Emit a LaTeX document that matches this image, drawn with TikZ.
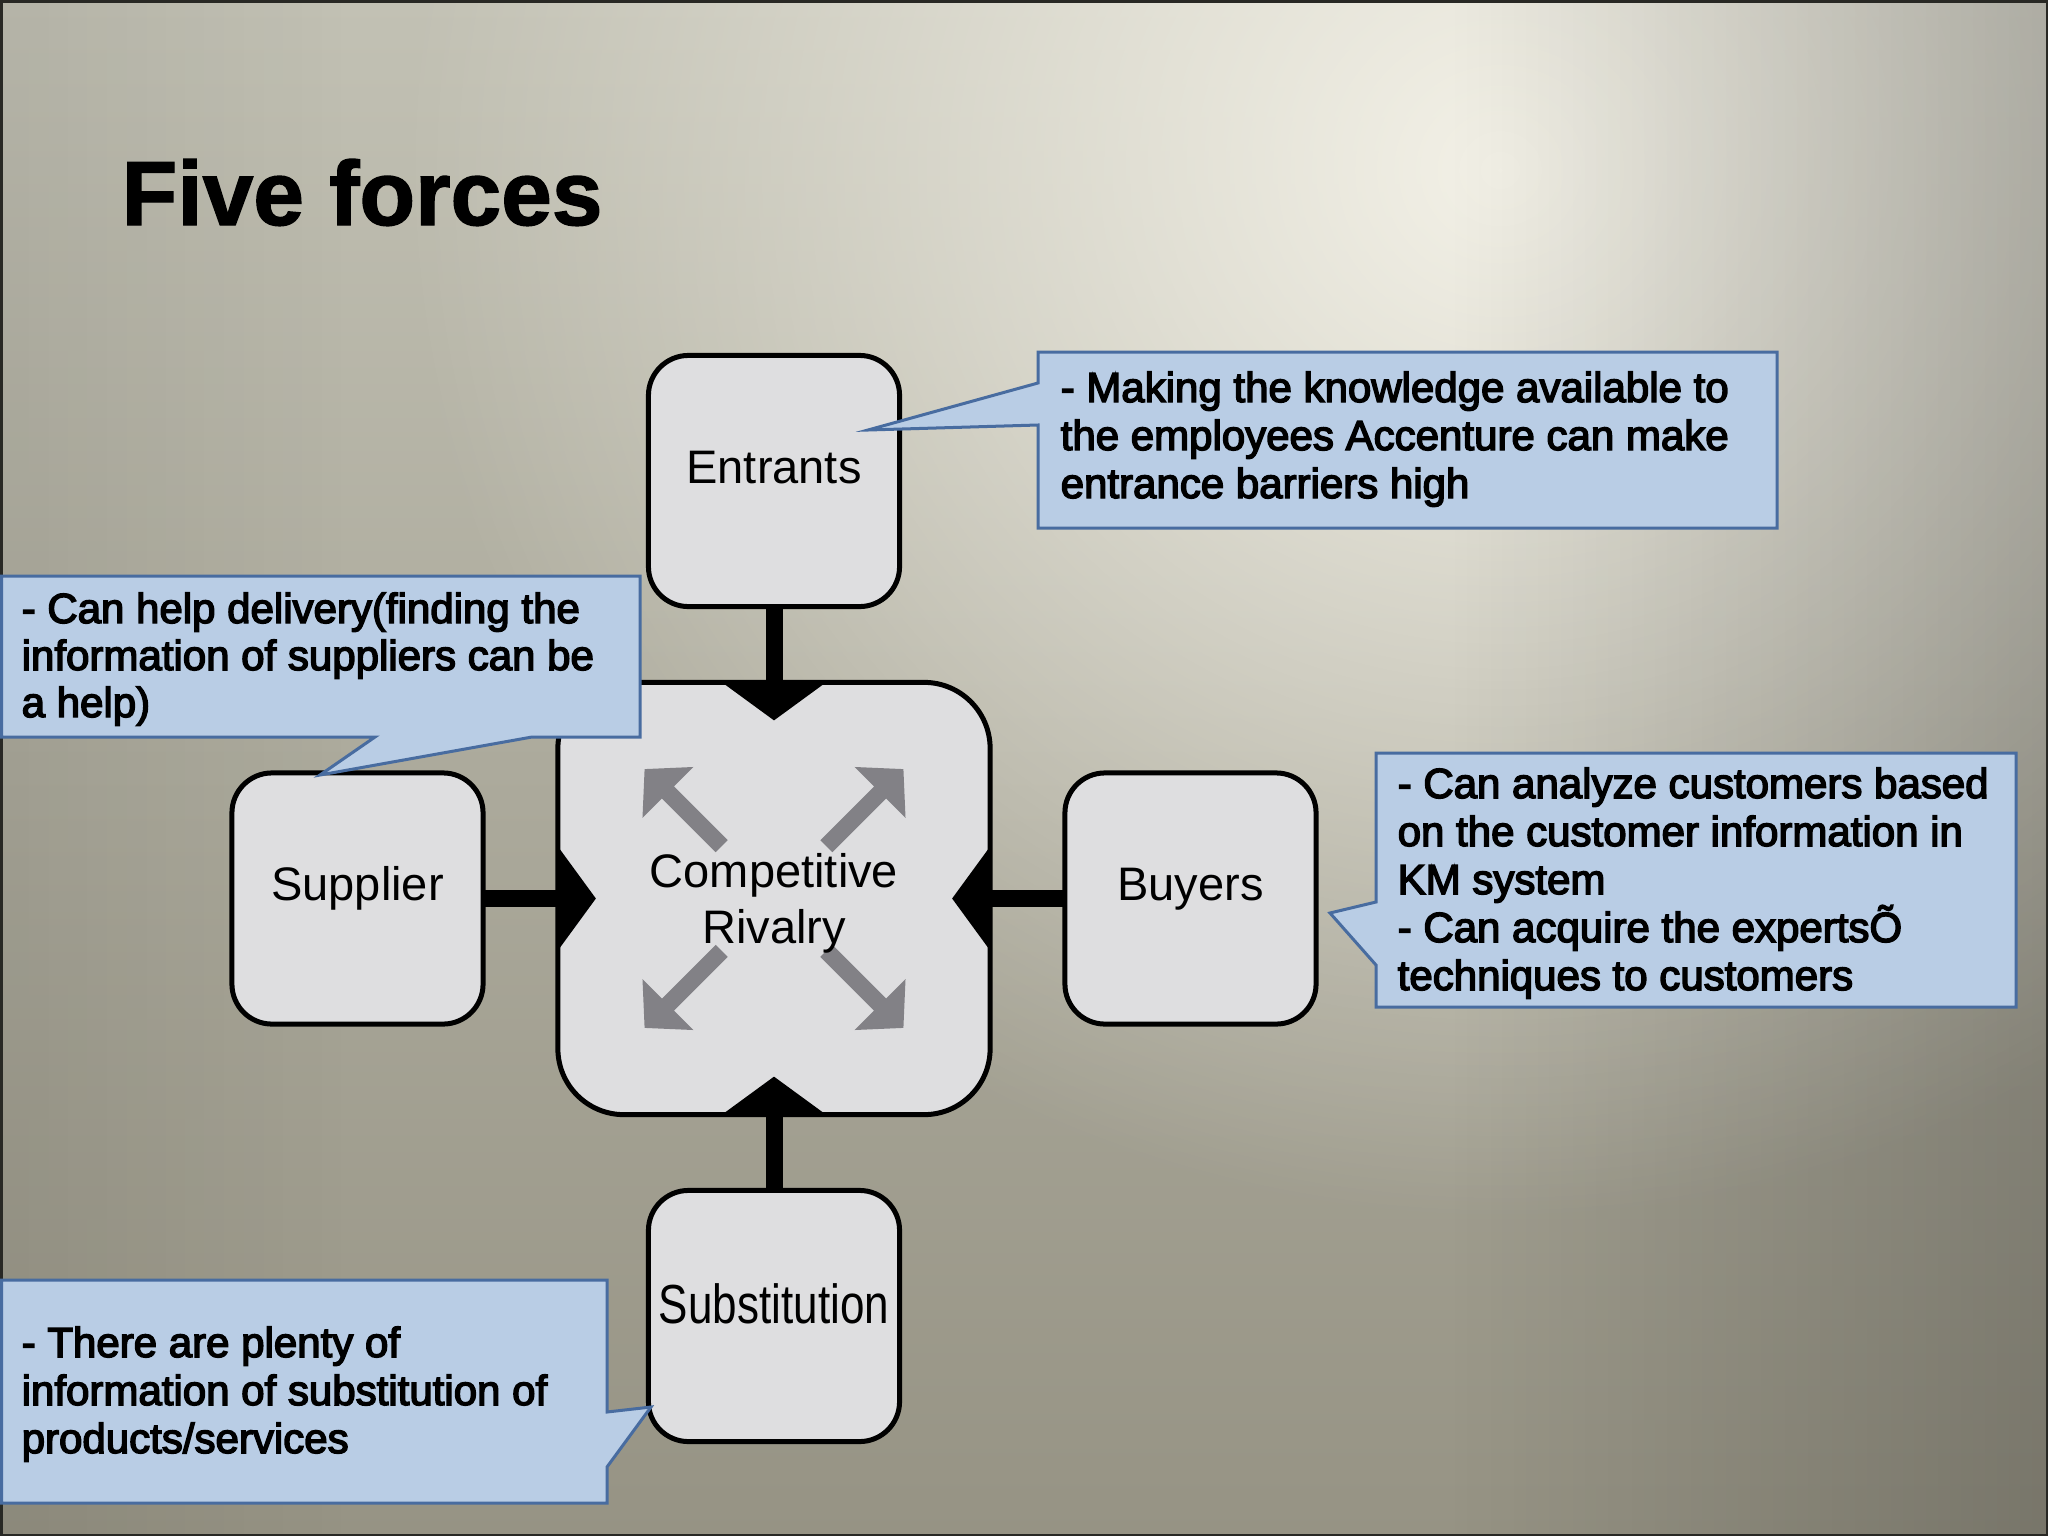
\documentclass[tikz,border=0pt]{standalone}
\usepackage{fontspec}
\usepackage{graphicx}
\usetikzlibrary{fadings}
\newfontfamily\arialf{Liberation Sans}
\newfontfamily\callf[FakeBold=3.5]{Liberation Sans}
\newfontfamily\titlef[FakeBold=1.5]{Liberation Sans Bold}
\definecolor{bgT}{RGB}{194,193,180}
\definecolor{bgB}{RGB}{150,147,132}
\definecolor{spotc}{RGB}{243,241,231}
\definecolor{boxfill}{RGB}{222,222,224}
\definecolor{callfill}{RGB}{185,205,229}
\definecolor{calldraw}{RGB}{72,108,160}
\definecolor{arrgray}{RGB}{130,129,134}
\definecolor{framec}{RGB}{40,40,36}
\tikzfading[name=fadeR, left color=transparent!100, right color=transparent!0]
\tikzfading[name=fadeL, left color=transparent!0, right color=transparent!100]
\tikzfading[name=spotfade, inner color=transparent!0, outer color=transparent!100]
\begin{document}
\begin{tikzpicture}[x=0.01cm, y=-0.01cm,
  box/.style={draw=black, line width=0.05cm, fill=boxfill, rounded corners=0.4cm,
    minimum width=2.51cm, minimum height=2.51cm, outer sep=0pt, inner sep=0pt},
  bigbox/.style={box, rounded corners=0.66cm, minimum width=4.32cm, minimum height=4.32cm},
  lbl/.style={font=\arialf\fontsize{13.37pt}{16pt}\selectfont, inner sep=0pt, anchor=base},
  calltxt/.style={font=\callf\fontsize{11.95pt}{13.66pt}\selectfont, inner sep=0pt, anchor=base west},
  callout/.style={draw=calldraw, line width=0.03cm, fill=callfill, line join=miter},
  stem/.style={line width=0.17cm, black},
  grayarrow/.style={fill=arrgray},
  headfill/.style={fill=black}
]
\useasboundingbox (0,0) rectangle (2048,1536);
% background
\shade[top color=bgT, bottom color=bgB] (0,0) rectangle (2048,1536);
\fill[spotc, path fading=spotfade] (1500,170) ellipse (1100 and 1050);
\fill[black, opacity=0.2, path fading=fadeR] (1450,0) rectangle (2048,1536);
\fill[black, opacity=0.07, path fading=fadeL] (0,0) rectangle (350,1536);
\draw[framec, line width=0.05cm] (0,0) rectangle (2048,1536);

% title
\node[font=\titlef\fontsize{25.9pt}{30pt}\selectfont, inner sep=0pt, anchor=base west] (title) at (121,225) {Five forces};

% boxes
\node[box] (ent) at (774,481) {};
\node[box] (sup) at (357.5,898.5) {};
\node[box] (buy) at (1190.5,898.5) {};
\node[box] (sub) at (774,1316) {};
\node[bigbox] (riv) at (774,898.5) {};

% connectors
\draw[stem] (ent.south) -- (riv.north);
\draw[stem] (sup.east) -- (riv.west);
\draw[stem] (buy.west) -- (riv.east);
\draw[stem] (sub.north) -- (riv.south);
\fill[headfill] (riv.north) ++(-52,0) -- ++(104,0) -- ++(-52,38) -- cycle;
\fill[headfill] (riv.south) ++(-52,0) -- ++(104,0) -- ++(-52,-38) -- cycle;
\fill[headfill] (riv.west) ++(0,-52) -- ++(0,104) -- ++(38,-52) -- cycle;
\fill[headfill] (riv.east) ++(0,-52) -- ++(0,104) -- ++(-38,-52) -- cycle;

% inner gray arrows
\foreach \a in {45,135,225,315}
  \fill[grayarrow, shift={(riv.center)}, rotate=\a]
    (74,-8.5) -- (150,-8.5) -- (150,-36) -- (183,0) -- (150,36) -- (150,8.5) -- (74,8.5) -- cycle;

% labels
\node[lbl] (entL) at (774,483) {Entrants};
\node[lbl] (supL) at (357.5,900) {Supplier};
\node[lbl] (buyL) at (1190.5,900) {Buyers};
\node[lbl] (subL) at (774,1323) {\fontsize{15.65pt}{18pt}\selectfont\scalebox{0.8}[1]{Substitution}};
\node[lbl] (rivL1) at (774,887) {Competitive};
\node[lbl] (rivL2) at (774,943) {Rivalry};

% callout 1 (entrants)
\draw[callout] (1038,352) -- (1777,352) -- (1777,528) -- (1038,528) -- (1038,425) -- (868,430) -- (1038,383) -- cycle;
\node[calltxt] (c1a) at (1060,402) {- Making the knowledge available to};
\node[calltxt] (c1b) at (1060,450) {the employees Accenture can make};
\node[calltxt] (c1c) at (1060,498) {entrance barriers high};

% callout 2 (supplier)
\draw[callout] (1.5,576) -- (640,576) -- (640,737) -- (532,737) -- (320,775) -- (375,737) -- (1.5,737) -- cycle;
\node[calltxt] (c2a) at (21,623) {- Can help delivery(finding the};
\node[calltxt] (c2b) at (21,670) {information of suppliers can be};
\node[calltxt] (c2c) at (21,717) {a help)};

% callout 3 (buyers)
\draw[callout] (1376,753) -- (2016,753) -- (2016,1007) -- (1376,1007) -- (1376,965) -- (1330,913) -- (1376,902) -- cycle;
\node[calltxt] (c3a) at (1397,798) {- Can analyze customers based};
\node[calltxt] (c3b) at (1397,846) {on the customer information in};
\node[calltxt] (c3c) at (1397,894) {KM system};
\node[calltxt] (c3d) at (1397,942) {- Can acquire the expertsÕ};
\node[calltxt] (c3e) at (1397,990) {techniques to customers};

% callout 4 (substitution)
\draw[callout] (1.5,1280) -- (607,1280) -- (607,1412) -- (651,1407) -- (607,1467) -- (607,1503) -- (1.5,1503) -- cycle;
\node[calltxt] (c4a) at (21,1357) {- There are plenty of};
\node[calltxt] (c4b) at (21,1405) {information of substitution of};
\node[calltxt] (c4c) at (21,1453) {products/services};
\end{tikzpicture}
\end{document}
